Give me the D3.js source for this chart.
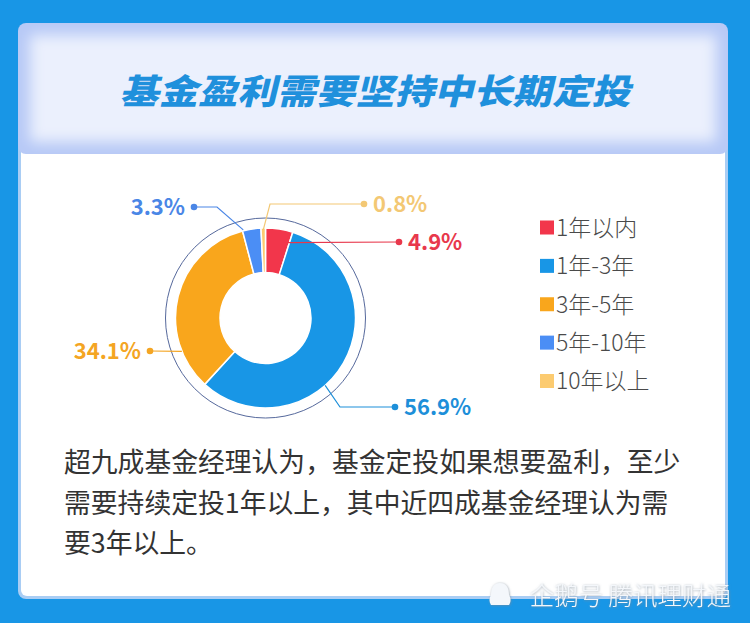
<!DOCTYPE html>
<html>
<head>
<meta charset="utf-8">
<script src="https://cdn.jsdelivr.net/npm/d3@7"></script>
<style>
  html, body { margin: 0; padding: 0; background: #1896e6; }
  svg { display: block; }
  text { font-family: "Noto Sans CJK SC", "Noto Sans", sans-serif; }
</style>
</head>
<body>
<div id="chart"></div>
<script>
// data
const categories = ["1年以内", "1年-3年", "3年-5年", "5年-10年", "10年以上"]
const shares = [4.9, 56.9, 34.1, 3.3, 0.8]
const labels = ["4.9%", "56.9%", "34.1%", "3.3%", "0.8%"]
const colors = ["#f2364b", "#1896e6", "#f9a61c", "#4b8ef5", "#fccb70"]
const labelColors = ["#e8384c", "#1d8fd9", "#f4a523", "#4a86e6", "#f3c874"]

const title = "基金盈利需要坚持中长期定投"
const paragraph = [
  "超九成基金经理认为，基金定投如果想要盈利，至少",
  "需要持续定投1年以上，其中近四成基金经理认为需",
  "要3年以上。"
]

const width = 750, height = 623
const cx = 265.5, cy = 318
const outerR = 90, innerR = 45.5, ringR = 100

// where each leader line sits (relative to donut centre)
const labelLayout = [
  {t: 0.9, rk: 0.87, elbow: null, dot: [133.5, -76]},
  {t: 0.59, rk: 1, elbow: [74.5, 89], dot: [129.5, 89]},
  {t: 0.21, rk: 1, elbow: null, dot: [-115.5, 33]},
  {t: 0.05, rk: 1.01, elbow: [-48.5, -111], dot: [-71.5, -111]},
  {t: 0.5, rk: 0.98, elbow: [4.5, -114], dot: [98.5, -114]}
]

const svg = d3.select("#chart").append("svg")
  .attr("width", width)
  .attr("height", height)

const defs = svg.append("defs")
defs.append("filter").attr("id", "soft")
  .attr("x", "-10%").attr("y", "-20%").attr("width", "120%").attr("height", "140%")
  .append("feGaussianBlur").attr("stdDeviation", 7)
defs.append("clipPath").attr("id", "headClip")
  .append("rect").attr("x", 18).attr("y", 23).attr("width", 710).attr("height", 131).attr("rx", 8)
defs.append("filter").attr("id", "wmShadow")
  .attr("x", "-10%").attr("y", "-30%").attr("width", "120%").attr("height", "160%")
  .append("feDropShadow")
  .attr("dx", 0.5).attr("dy", 0.5).attr("stdDeviation", 0.8)
  .attr("flood-color", "#7a8a99").attr("flood-opacity", 0.8)

svg.append("rect").attr("width", width).attr("height", height).attr("fill", "#1896e6")

// panel body
svg.append("rect")
  .attr("x", 18).attr("y", 40).attr("width", 710).attr("height", 559)
  .attr("rx", 8).attr("fill", "#a9cdf4")
svg.append("rect")
  .attr("x", 21).attr("y", 40).attr("width", 704).attr("height", 556)
  .attr("rx", 6).attr("fill", "#ffffff")

// header with soft lavender edge
let head = svg.append("g").attr("clip-path", "url(#headClip)")
head.append("rect")
  .attr("x", 18).attr("y", 23).attr("width", 710).attr("height", 131)
  .attr("fill", "#b7c9f6")
head.append("rect")
  .attr("x", 30).attr("y", 35).attr("width", 686).attr("height", 107)
  .attr("fill", "#ebf0fd")
  .attr("filter", "url(#soft)")

svg.append("text")
  .attr("transform", "translate(375,104) scale(1.14,1) skewX(-12)")
  .attr("text-anchor", "middle")
  .attr("font-size", 34.5)
  .attr("font-weight", 900)
  .attr("fill", "#1f90dc")
  .text(title)

// donut
let g = svg.append("g").attr("transform", `translate(${cx},${cy})`)

g.append("circle")
  .attr("r", ringR)
  .attr("fill", "none")
  .attr("stroke", "#56699c")
  .attr("stroke-width", 1)

let pie = d3.pie().sort(null).value(d => d)
let arcs = pie(shares)

let arc = d3.arc().innerRadius(innerR).outerRadius(outerR)

g.selectAll("path.slice")
  .data(arcs)
  .enter()
  .append("path")
  .attr("class", "slice")
  .attr("d", arc)
  .attr("fill", (d, i) => colors[i])
  .attr("stroke", "#ffffff")
  .attr("stroke-width", 1.5)

function anchorPoint(d, i) {
  let L = labelLayout[i]
  let a = d.startAngle + (d.endAngle - d.startAngle) * L.t
  let r = outerR * L.rk
  return [Math.sin(a) * r, -Math.cos(a) * r]
}

g.selectAll("polyline.leader")
  .data(arcs)
  .enter()
  .append("polyline")
  .attr("class", "leader")
  .attr("fill", "none")
  .attr("stroke", (d, i) => labelColors[i])
  .attr("stroke-width", 1.2)
  .attr("points", function(d, i) {
    let L = labelLayout[i]
    let pts = [anchorPoint(d, i)]
    if (L.elbow) pts.push(L.elbow)
    pts.push(L.dot)
    return pts
  })

g.selectAll("circle.dot")
  .data(arcs)
  .enter()
  .append("circle")
  .attr("class", "dot")
  .attr("cx", (d, i) => labelLayout[i].dot[0])
  .attr("cy", (d, i) => labelLayout[i].dot[1])
  .attr("r", 3.3)
  .attr("fill", (d, i) => labelColors[i])

g.selectAll("text.pct")
  .data(arcs)
  .enter()
  .append("text")
  .attr("class", "pct")
  .attr("x", (d, i) => labelLayout[i].dot[0] + (labelLayout[i].dot[0] > 0 ? 9 : -9))
  .attr("y", (d, i) => labelLayout[i].dot[1])
  .attr("dy", "0.36em")
  .attr("text-anchor", (d, i) => labelLayout[i].dot[0] > 0 ? "start" : "end")
  .attr("font-size", 22)
  .attr("font-weight", 700)
  .attr("fill", (d, i) => labelColors[i])
  .text((d, i) => labels[i])

// legend
let legendY = d3.scalePoint().domain(categories).range([227.5, 381])

let legend = svg.selectAll("g.legend")
  .data(categories)
  .enter()
  .append("g")
  .attr("class", "legend")
  .attr("transform", d => `translate(540,${legendY(d)})`)

legend.append("rect")
  .attr("x", 0).attr("y", -7)
  .attr("width", 14).attr("height", 14)
  .attr("fill", (d, i) => colors[i])

legend.append("text")
  .attr("x", 16)
  .attr("dy", "0.36em")
  .attr("font-size", 23)
  .attr("font-weight", 300)
  .attr("fill", "#4a4a4a")
  .text(d => d)

// paragraph
svg.append("g").selectAll("text")
  .data(paragraph)
  .enter()
  .append("text")
  .attr("x", 64)
  .attr("y", (d, i) => 472 + i * 40.5)
  .attr("font-size", 26.8)
  .attr("fill", "#333333")
  .text(d => d)

// watermark
let wm = svg.append("g").attr("filter", "url(#wmShadow)")
wm.append("path")
  .attr("d", "M500,583 C493,583 491,589 491,595 C489,598 489,602 491,605 L509,605 C511,602 511,598 509,595 C509,589 507,583 500,583 Z")
  .attr("fill", "#f4f7fb")
wm.append("text")
  .attr("x", 731).attr("y", 605)
  .attr("text-anchor", "end")
  .attr("font-size", 24.5)
  .attr("font-weight", 300)
  .attr("fill", "#f4f7fb")
  .text("企鹅号 腾讯理财通")
</script>
</body>
</html>
